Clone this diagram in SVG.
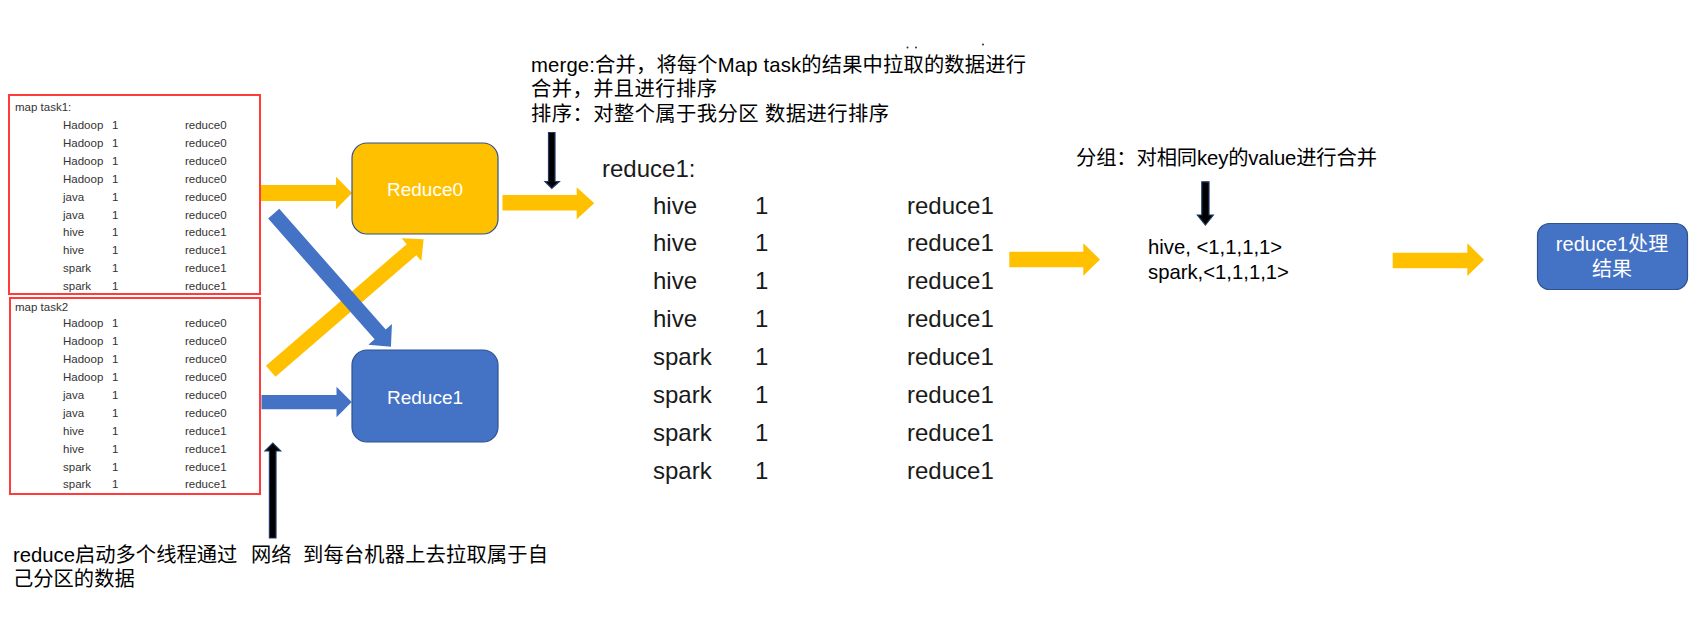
<svg xmlns="http://www.w3.org/2000/svg" width="1698" height="639" viewBox="0 0 1698 639">
<defs>
<style>
text{font-family:"Liberation Sans","Noto Sans CJK SC",sans-serif;}
.map{font-size:11.5px;fill:#333;}
.mapbox{fill:#fff;stroke:#FF3B3B;stroke-width:2;}
.tbl{font-size:24px;fill:#1a1a1a;}
.note{font-size:20.3px;fill:#000;}
.wt{fill:#fff;text-anchor:middle;}
.yl{fill:#FFC000;}
.bl{fill:#4472C4;}
.blk{fill:#000;stroke:#203864;stroke-width:1.2;}
</style>
</defs>
<rect width="1698" height="639" fill="#fff"/>

<g id="maptask1">
<rect class="mapbox" x="9" y="95" width="251" height="199"/>
<text class="map" x="15" y="110.5">map task1:</text>
<g class="map">
<text x="63" y="129">Hadoop</text><text x="112" y="129">1</text><text x="185" y="129">reduce0</text>
<text x="63" y="146.9">Hadoop</text><text x="112" y="146.9">1</text><text x="185" y="146.9">reduce0</text>
<text x="63" y="164.8">Hadoop</text><text x="112" y="164.8">1</text><text x="185" y="164.8">reduce0</text>
<text x="63" y="182.7">Hadoop</text><text x="112" y="182.7">1</text><text x="185" y="182.7">reduce0</text>
<text x="63" y="200.6">java</text><text x="112" y="200.6">1</text><text x="185" y="200.6">reduce0</text>
<text x="63" y="218.5">java</text><text x="112" y="218.5">1</text><text x="185" y="218.5">reduce0</text>
<text x="63" y="236.4">hive</text><text x="112" y="236.4">1</text><text x="185" y="236.4">reduce1</text>
<text x="63" y="254.3">hive</text><text x="112" y="254.3">1</text><text x="185" y="254.3">reduce1</text>
<text x="63" y="272.2">spark</text><text x="112" y="272.2">1</text><text x="185" y="272.2">reduce1</text>
<text x="63" y="290.1">spark</text><text x="112" y="290.1">1</text><text x="185" y="290.1">reduce1</text>
</g>
</g>

<g id="maptask2">
<rect class="mapbox" x="10" y="298" width="250" height="196"/>
<text class="map" x="15" y="310.5">map task2</text>
<g class="map">
<text x="63" y="327.3">Hadoop</text><text x="112" y="327.3">1</text><text x="185" y="327.3">reduce0</text>
<text x="63" y="345.2">Hadoop</text><text x="112" y="345.2">1</text><text x="185" y="345.2">reduce0</text>
<text x="63" y="363.1">Hadoop</text><text x="112" y="363.1">1</text><text x="185" y="363.1">reduce0</text>
<text x="63" y="381">Hadoop</text><text x="112" y="381">1</text><text x="185" y="381">reduce0</text>
<text x="63" y="398.9">java</text><text x="112" y="398.9">1</text><text x="185" y="398.9">reduce0</text>
<text x="63" y="416.8">java</text><text x="112" y="416.8">1</text><text x="185" y="416.8">reduce0</text>
<text x="63" y="434.7">hive</text><text x="112" y="434.7">1</text><text x="185" y="434.7">reduce1</text>
<text x="63" y="452.6">hive</text><text x="112" y="452.6">1</text><text x="185" y="452.6">reduce1</text>
<text x="63" y="470.5">spark</text><text x="112" y="470.5">1</text><text x="185" y="470.5">reduce1</text>
<text x="63" y="488.4">spark</text><text x="112" y="488.4">1</text><text x="185" y="488.4">reduce1</text>
</g>
</g>

<g id="connectors">
<polygon class="yl" points="261,185 336,185 336,176.7 352,193 336,209.3 336,201 261,201"/>
<polygon class="bl" points="261.5,395 336.5,395 336.5,386.7 351.7,402 336.5,417.3 336.5,409.3 261.5,409.3"/>
<polygon class="yl" transform="translate(270.7,371.2) rotate(-40.8)" points="0,-7.3 186,-7.3 186,-15 202,0 186,15 186,7.3 0,7.3"/>
<polygon class="bl" transform="translate(273.7,213.7) rotate(48.6)" points="0,-7.4 161,-7.4 161,-15.7 177.3,0 161,15.7 161,7.4 0,7.4"/>
<polygon class="yl" points="502.5,195 576.7,195 576.7,187.3 594.3,203.3 576.7,219.3 576.7,210.5 502.5,210.5"/>
<polygon class="yl" points="1009.3,251.7 1083.3,251.7 1083.3,243.3 1100,259.5 1083.3,275.7 1083.3,267.3 1009.3,267.3"/>
<polygon class="yl" points="1392.7,252.7 1467.3,252.7 1467.3,243.3 1484,259.7 1467.3,276 1467.3,268.3 1392.7,268.3"/>
<polygon class="blk" points="548.5,132.5 555,132.5 555,181.5 559.3,181.5 551.8,188.3 545,181.5 548.5,181.5"/>
<polygon class="blk" points="1201.8,181.8 1209,181.8 1209,215 1213.3,215 1205.4,225 1197.4,215 1201.8,215"/>
<polygon class="blk" points="269.4,538 276,538 276,451 280.7,451 272.8,443 265,451 269.4,451"/>
</g>

<g id="reduce0">
<rect x="352" y="143" width="146" height="91" rx="15" fill="#FFC000" stroke="#2F528F" stroke-width="1.2"/>
<text class="wt" x="425" y="196" font-size="19">Reduce0</text>
</g>

<g id="reduce1">
<rect x="352" y="350" width="146" height="92" rx="15" fill="#4472C4" stroke="#2F528F" stroke-width="1.2"/>
<text class="wt" x="425" y="403.5" font-size="19">Reduce1</text>
</g>

<g id="merge-note">
<text class="note" x="531" y="71.5" textLength="495" lengthAdjust="spacing">merge:合并，将每个Map task的结果中拉取的数据进行</text>
<text class="note" x="531" y="96" textLength="186" lengthAdjust="spacing">合并，并且进行排序</text>
<text class="note" x="531" y="120.5" textLength="358" lengthAdjust="spacing">排序：对整个属于我分区 数据进行排序</text>
<g fill="#333">
<circle cx="907.5" cy="47.5" r="1"/>
<circle cx="916" cy="47.5" r="1"/>
<circle cx="983" cy="44.5" r="1"/>
</g>
</g>

<g id="reduce1-table">
<text class="tbl" x="602" y="176.5">reduce1:</text>
<g class="tbl">
<text x="653" y="213.5">hive</text><text x="755" y="213.5">1</text><text x="907" y="213.5">reduce1</text>
<text x="653" y="251.4">hive</text><text x="755" y="251.4">1</text><text x="907" y="251.4">reduce1</text>
<text x="653" y="289.3">hive</text><text x="755" y="289.3">1</text><text x="907" y="289.3">reduce1</text>
<text x="653" y="327.2">hive</text><text x="755" y="327.2">1</text><text x="907" y="327.2">reduce1</text>
<text x="653" y="365.1">spark</text><text x="755" y="365.1">1</text><text x="907" y="365.1">reduce1</text>
<text x="653" y="403">spark</text><text x="755" y="403">1</text><text x="907" y="403">reduce1</text>
<text x="653" y="440.9">spark</text><text x="755" y="440.9">1</text><text x="907" y="440.9">reduce1</text>
<text x="653" y="478.8">spark</text><text x="755" y="478.8">1</text><text x="907" y="478.8">reduce1</text>
</g>
</g>

<g id="group-note">
<text class="note" x="1076" y="164.5" textLength="301" lengthAdjust="spacing">分组：对相同key的value进行合并</text>
</g>

<g id="grouped">
<text class="note" x="1148" y="254" font-size="20">hive, &lt;1,1,1,1&gt;</text>
<text class="note" x="1148" y="278.5" font-size="20">spark,&lt;1,1,1,1&gt;</text>
</g>

<g id="result">
<rect x="1537.5" y="223.5" width="150" height="66" rx="12" fill="#4472C4" stroke="#2F528F" stroke-width="1.2"/>
<text class="wt" x="1612" y="250.7" font-size="20">reduce1处理</text>
<text class="wt" x="1612" y="275.7" font-size="20">结果</text>
</g>

<g id="fetch-note">
<text class="note" y="561.5" font-size="20"><tspan x="13">reduce启动多个线程通过</tspan><tspan x="251">网络</tspan><tspan x="303" textLength="245" lengthAdjust="spacing">到每台机器上去拉取属于自</tspan></text>
<text class="note" x="13" y="585.5" font-size="20">己分区的数据</text>
</g>
</svg>
